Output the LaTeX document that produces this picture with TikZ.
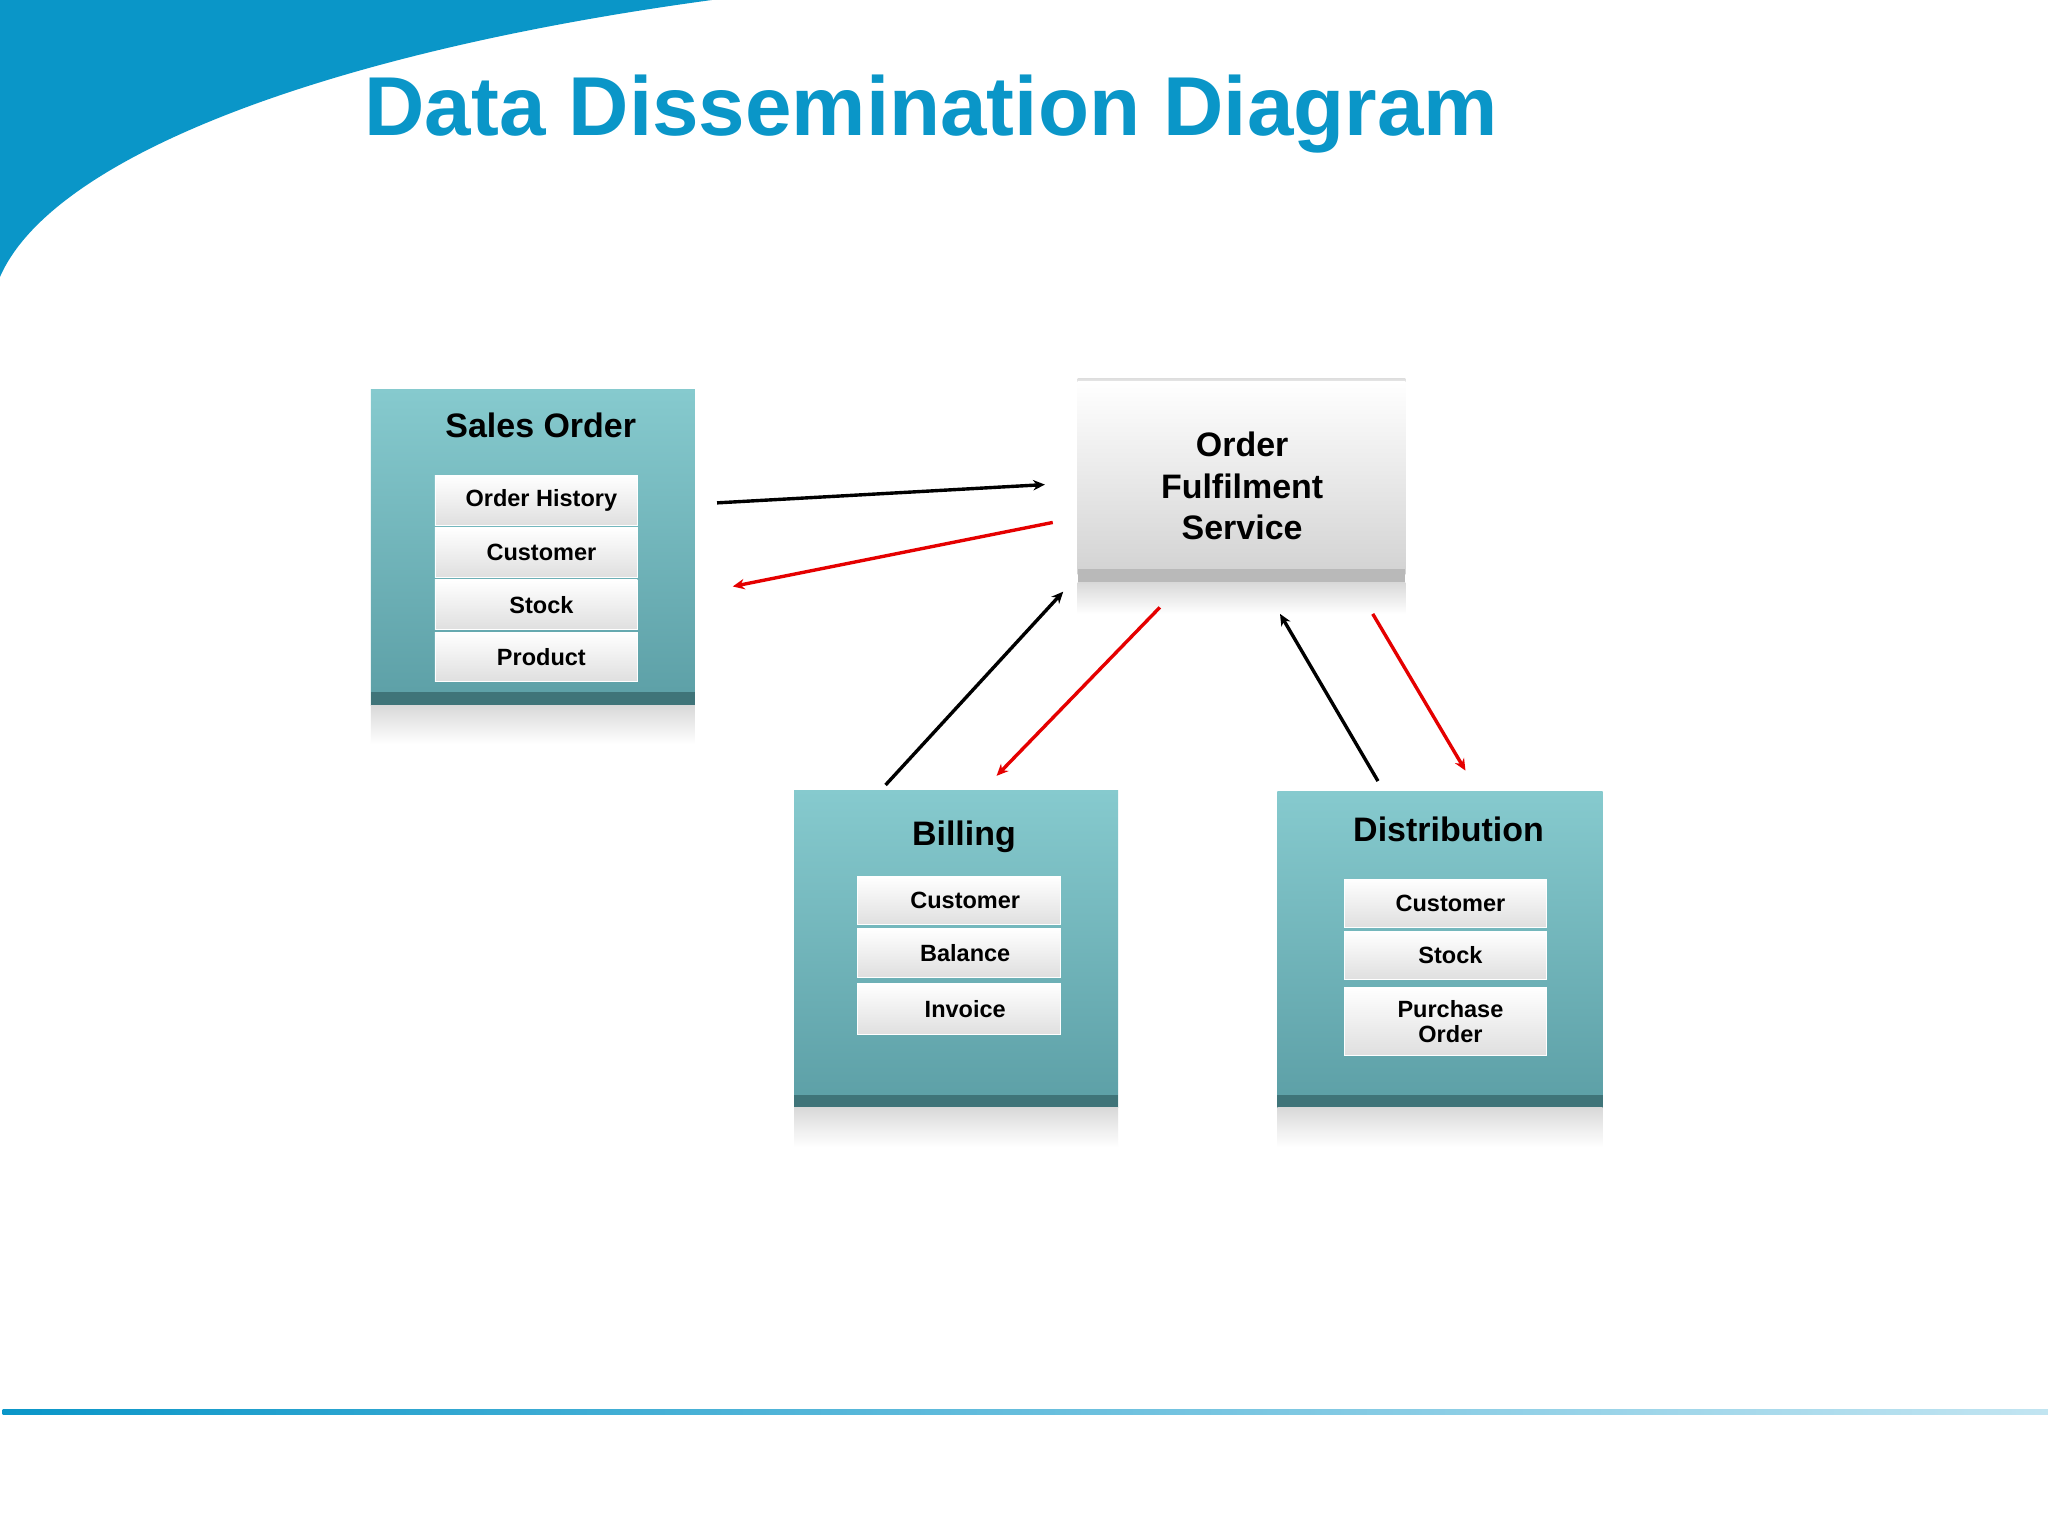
\documentclass[tikz,border=0pt]{standalone}
\usepackage{fontspec}
\setmainfont{Liberation Sans}
\usetikzlibrary{arrows.meta}
\definecolor{tblue}{HTML}{0A96C8}
\definecolor{tealtop}{HTML}{86CACE}
\definecolor{tealbot}{HTML}{5C9FA6}
\definecolor{tealdark}{HTML}{3F7479}
\tikzset{
  group/.style={top color=tealtop, bottom color=tealbot, draw=none},
  item/.style={draw=white, line width=0.6pt, top color=white, bottom color=gray!25, minimum width=155pt, inner sep=0pt, font=\bfseries\fontsize{18}{20}\selectfont, align=center},
  gtitle/.style={font=\bfseries\fontsize{26}{28}\selectfont},
  blk/.style={line width=2.6pt, -{Stealth[length=9pt,width=8pt]}, black},
  redl/.style={line width=2.6pt, -{Stealth[length=9pt,width=8pt]}, red!90!black},
}
\newcommand{\grpbox}[4]{%
  \fill[group] (#1,#2) rectangle (#3,#4);
  \fill[tealdark] (#1,#4-10) rectangle (#3,#4);
  \shade[top color=gray!30, bottom color=white] (#1,#4) rectangle (#3,#4+30);
}
\begin{document}
\begin{tikzpicture}[x=1pt,y=-1pt]
\useasboundingbox (0,0) rectangle (1568,1176);
\fill[white] (0,0) rectangle (1568,1176);
% swoosh
\fill[tblue] (0,0) -- (545,0) .. controls (250,40) and (40,120) .. (0,212) -- cycle;
\node[text=tblue, font=\bfseries\fontsize{64}{70}\selectfont] (title) at (713,87) {Data Dissemination Diagram};
% bottom line
\shade[left color=tblue, right color=tblue!25] (2,1079) rectangle (1568,1083);

\grpbox{284}{298}{532}{540}
\grpbox{608}{605}{856}{848}
\grpbox{978}{606}{1227}{848}

% Order fulfilment
\shade[top color=gray!25, bottom color=white] (825,290) rectangle (1076,298);
\fill[top color=white, bottom color=gray!35] (825,292) rectangle (1076,440);
\node[font=\bfseries\fontsize{26}{32}\selectfont, align=center, inner sep=0pt] (ofs) at (951,372) {Order\\Fulfilment\\Service};
\fill[gray!55] (825,436) rectangle (1076,446);
\shade[top color=gray!30, bottom color=white] (825,446) rectangle (1076,470);

% Sales Order
\node[gtitle] (sot) at (414,326) {Sales Order};
\node[item, minimum height=38pt] (so1) at (410.5,383) {\hspace{8pt}Order History};
\node[item, minimum height=38pt] (so2) at (410.5,423) {\hspace{8pt}Customer};
\node[item, minimum height=38pt] (so3) at (410.5,463) {\hspace{8pt}Stock};
\node[item, minimum height=38pt] (so4) at (410.5,503) {\hspace{8pt}Product};

% Billing
\node[gtitle] (bt) at (738,641) {Billing};
\node[item, minimum height=37pt] (b1) at (734,689.5) {\hspace{10pt}Customer};
\node[item, minimum height=37pt] (b2) at (734,729.5) {\hspace{10pt}Balance};
\node[item, minimum height=39pt] (b3) at (734,772.5) {\hspace{10pt}Invoice};

% Distribution
\node[gtitle] (dt) at (1109,635) {Distribution};
\node[item, minimum height=37pt] (d1) at (1106.5,691.5) {\hspace{8pt}Customer};
\node[item, minimum height=37pt] (d2) at (1106.5,731.5) {\hspace{8pt}Stock};
\node[item, minimum height=52pt] (d3) at (1106.5,782) {\hspace{8pt}Purchase\\[-1pt]\hspace{8pt}Order};

% arrow endpoints
\coordinate (a1s) at (549,385); \coordinate (a1e) at (800,371);
\coordinate (a2s) at (806,400); \coordinate (a2e) at (561,449);
\coordinate (a3s) at (678,601); \coordinate (a3e) at (814,453);
\coordinate (a4s) at (888,465); \coordinate (a4e) at (763,594);
\coordinate (a5s) at (1055,598); \coordinate (a5e) at (980,470);
\coordinate (a6s) at (1051,470); \coordinate (a6e) at (1122,590);
\draw[blk] (a1s) -- (a1e);
\draw[redl] (a2s) -- (a2e);
\draw[blk] (a3s) -- (a3e);
\draw[redl] (a4s) -- (a4e);
\draw[blk] (a5s) -- (a5e);
\draw[redl] (a6s) -- (a6e);
\end{tikzpicture}
\end{document}
